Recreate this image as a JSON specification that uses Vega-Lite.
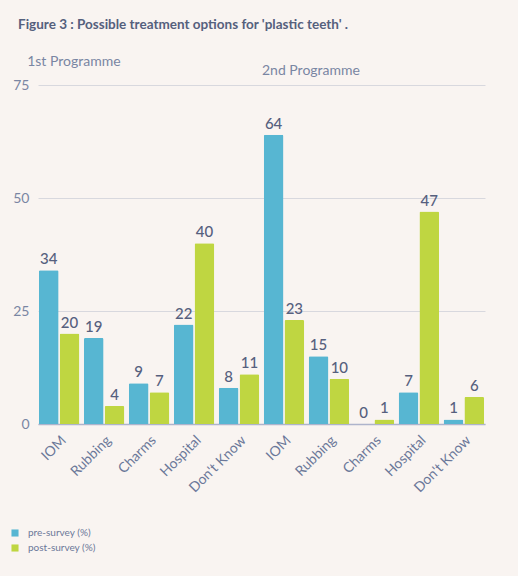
{
  "$schema": "https://vega.github.io/schema/vega-lite/v6.json",
  "autosize": "none",
  "width": 447,
  "height": 339,
  "padding": {"left": 38, "top": 85, "right": 33, "bottom": 152},
  "background": "#f9f4f1",
  "title": {
    "text": "Figure 3 : Possible treatment options for 'plastic teeth' .",
    "anchor": "start",
    "frame": "group",
    "offset": 24,
    "dx": -20,
    "font": "Lato",
    "fontSize": 13.5,
    "fontWeight": "bold",
    "color": "#55607d"
  },
  "config": {
    "view": {"stroke": null},
    "font": "Lato"
  },
  "datasets": {
    "bars": [
      {"slot": "1|IOM", "series": "pre-survey (%)", "value": 34},
      {"slot": "1|IOM", "series": "post-survey (%)", "value": 20},
      {"slot": "1|Rubbing", "series": "pre-survey (%)", "value": 19},
      {"slot": "1|Rubbing", "series": "post-survey (%)", "value": 4},
      {"slot": "1|Charms", "series": "pre-survey (%)", "value": 9},
      {"slot": "1|Charms", "series": "post-survey (%)", "value": 7},
      {"slot": "1|Hospital", "series": "pre-survey (%)", "value": 22},
      {"slot": "1|Hospital", "series": "post-survey (%)", "value": 40},
      {"slot": "1|Don't Know", "series": "pre-survey (%)", "value": 8},
      {"slot": "1|Don't Know", "series": "post-survey (%)", "value": 11},
      {"slot": "2|IOM", "series": "pre-survey (%)", "value": 64},
      {"slot": "2|IOM", "series": "post-survey (%)", "value": 23},
      {"slot": "2|Rubbing", "series": "pre-survey (%)", "value": 15},
      {"slot": "2|Rubbing", "series": "post-survey (%)", "value": 10},
      {"slot": "2|Charms", "series": "pre-survey (%)", "value": 0},
      {"slot": "2|Charms", "series": "post-survey (%)", "value": 1},
      {"slot": "2|Hospital", "series": "pre-survey (%)", "value": 7},
      {"slot": "2|Hospital", "series": "post-survey (%)", "value": 47},
      {"slot": "2|Don't Know", "series": "pre-survey (%)", "value": 1},
      {"slot": "2|Don't Know", "series": "post-survey (%)", "value": 6}
    ],
    "prog1": [
      {"slot": "1|IOM", "label": "1st Programme", "y": 80}
    ],
    "prog2": [
      {"slot": "2|IOM", "label": "2nd Programme", "y": 78.2}
    ]
  },
  "encoding": {
    "x": {
      "field": "slot",
      "type": "nominal",
      "sort": null,
      "scale": {"paddingInner": 0.1, "paddingOuter": 0.02},
      "axis": {
        "title": null,
        "labelExpr": "split(datum.value, '|')[1]",
        "labelAngle": -45,
        "labelFont": "Lato",
        "labelFontSize": 14,
        "labelColor": "#6b7899",
        "ticks": false,
        "domainColor": "#aeb4cc",
        "domainWidth": 1.5,
        "labelPadding": 9
      }
    }
  },
  "layer": [
    {
      "data": {"name": "bars"},
      "mark": {"type": "bar", "cornerRadiusTopLeft": 1.5, "cornerRadiusTopRight": 1.5},
      "encoding": {
        "xOffset": {"field": "series", "type": "nominal", "sort": ["pre-survey (%)", "post-survey (%)"], "scale": {"paddingInner": 0.05}},
        "y": {
          "field": "value",
          "type": "quantitative",
          "scale": {"domain": [0, 75], "nice": false},
          "axis": {
            "title": null,
            "values": [0, 25, 50, 75],
            "domain": false,
            "ticks": false,
            "labelFont": "Lato",
            "labelFontSize": 14,
            "labelColor": "#7a86a3",
            "labelPadding": 9,
            "gridColor": "#d8d8de",
            "gridWidth": 1
          }
        },
        "color": {
          "field": "series",
          "type": "nominal",
          "sort": ["pre-survey (%)", "post-survey (%)"],
          "scale": {"range": ["#57b6d2", "#bfd641"]},
          "legend": {
            "title": null,
            "orient": "none",
            "legendX": -28,
            "legendY": 443,
            "direction": "vertical",
            "symbolType": "square",
            "symbolSize": 50,
            "symbolStrokeWidth": 0,
            "labelFont": "Lato",
            "labelFontSize": 10,
            "labelColor": "#6b7899",
            "labelOffset": 8,
            "rowPadding": 5
          }
        }
      }
    },
    {
      "data": {"name": "bars"},
      "mark": {"type": "text", "dy": -3, "font": "Lato", "fontSize": 15, "fontWeight": 500, "color": "#56607e", "baseline": "bottom"},
      "encoding": {
        "xOffset": {"field": "series", "type": "nominal", "sort": ["pre-survey (%)", "post-survey (%)"], "scale": {"paddingInner": 0.05}},
        "y": {"field": "value", "type": "quantitative"},
        "text": {"field": "value", "type": "quantitative"}
      }
    },
    {
      "data": {"name": "prog1"},
      "mark": {"type": "text", "align": "left", "font": "Lato", "fontSize": 14, "color": "#7a86a3", "clip": false, "dx": -32},
      "encoding": {
        "y": {"field": "y", "type": "quantitative"},
        "text": {"field": "label"}
      }
    },
    {
      "data": {"name": "prog2"},
      "mark": {"type": "text", "align": "left", "font": "Lato", "fontSize": 14, "color": "#7a86a3", "clip": false, "dx": -22},
      "encoding": {
        "y": {"field": "y", "type": "quantitative"},
        "text": {"field": "label"}
      }
    }
  ]
}
